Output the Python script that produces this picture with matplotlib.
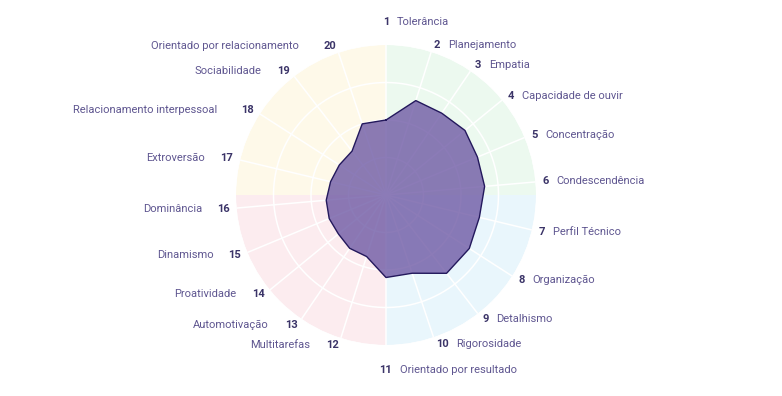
import numpy as np
import matplotlib
matplotlib.use("Agg")
import matplotlib.pyplot as plt

plt.rcParams['font.family'] = ['Roboto', 'DejaVu Sans']

# competencies, clockwise from the top
labels = ["Tolerância", "Planejamento", "Empatia", "Capacidade de ouvir",
          "Concentração", "Condescendência", "Perfil Técnico", "Organização",
          "Detalhismo", "Rigorosidade", "Orientado por resultado", "Multitarefas",
          "Automotivação", "Proatividade", "Dinamismo", "Dominância",
          "Extroversão", "Relacionamento interpessoal", "Sociabilidade",
          "Orientado por relacionamento"]
scores = [50, 66, 66, 68, 66, 66, 64, 66, 66, 55,
          55, 43, 43, 41, 41, 40, 38, 37, 37, 50]
quadrant_colors = ["#ecf9ef", "#e9f6fc", "#fcecef", "#fef9e9"]
rings = [25, 50, 75]
r_max = 100

n = len(labels)
base = np.deg2rad(np.arange(n) * 360.0 / n)
# the reference's spokes lean a little towards the top near the sides
theta = base - np.deg2rad(5.0) * np.sin(base) ** 2

fig = plt.figure(figsize=(7.82, 3.96), dpi=100)
cx, cy, rad = 386 / 782, 1 - 195 / 396, 150
ax = fig.add_axes([cx - rad / 782, cy - rad / 396, 2 * rad / 782, 2 * rad / 396],
                  projection='polar')
ax.set_theta_zero_location('N')
ax.set_theta_direction(-1)
ax.set_ylim(0, r_max)
ax.grid(False)
ax.set_xticks([])
ax.set_yticks([])
ax.spines['polar'].set_visible(False)
ax.patch.set_alpha(0)

# quadrant backgrounds
q_start = np.deg2rad([0, 90, 180, 270])
ax.bar(q_start, r_max, width=np.pi / 2, bottom=0, align='edge',
       color=quadrant_colors, edgecolor='none', zorder=0)

# white grid
circ = np.linspace(0, 2 * np.pi, 400)
for r in rings:
    ax.plot(circ, np.full_like(circ, r), color='white', lw=1.1, zorder=1)
for th in theta:
    ax.plot([th, th], [0, r_max], color='white', lw=1.1, zorder=1)

# scores polygon
th_closed = np.append(theta, theta[0])
sc_closed = np.append(scores, scores[0])
ax.fill(th_closed, sc_closed, color='#6f5aa5', alpha=0.8, lw=0, zorder=2)
ax.plot(th_closed, sc_closed, color='#23185c', lw=1.0, zorder=3)

num_color = '#3b3468'
name_color = '#5f5690'
fs = 8
for i, (th, name) in enumerate(zip(theta, labels)):
    num = str(i + 1)
    if i == 0 or i == n // 2:
        r_lab = 115.5 if i == 0 else 116.5
        t = ax.text(th, r_lab, num, ha='center', va='center', fontsize=fs,
                    color=num_color, fontweight='semibold', clip_on=False)
        ax.annotate(name, xy=(1, 0.5), xycoords=t, xytext=(8, 0),
                    textcoords='offset pixels', ha='left', va='center',
                    fontsize=fs, color=name_color)
    elif i < n // 2:
        t = ax.text(th, 104.7, num, ha='left', va='center', fontsize=fs,
                    color=num_color, fontweight='semibold', clip_on=False)
        ax.annotate(name, xy=(1, 0.5), xycoords=t, xytext=(8, 0),
                    textcoords='offset pixels', ha='left', va='center',
                    fontsize=fs, color=name_color)
    else:
        t = ax.text(th, 104.7, num, ha='right', va='center', fontsize=fs,
                    color=num_color, fontweight='semibold', clip_on=False)
        gap = 9 + 0.55 * len(name)
        ax.annotate(name, xy=(0, 0.5), xycoords=t, xytext=(-gap, 0),
                    textcoords='offset pixels', ha='right', va='center',
                    fontsize=fs, color=name_color)

fig.savefig('out.png', dpi=100)
